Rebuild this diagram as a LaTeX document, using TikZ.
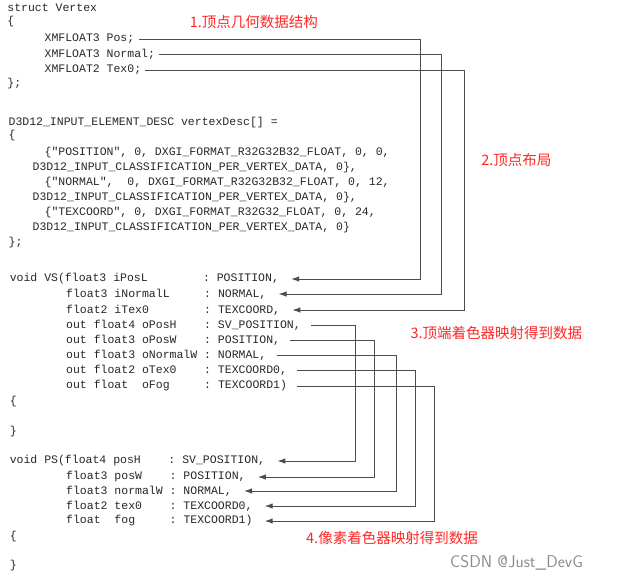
\documentclass[tikz,border=0pt]{standalone}
\usepackage{fontspec}
\setmonofont{Liberation Mono}
\newfontfamily\cjk{Noto Sans CJK SC}
\usetikzlibrary{arrows.meta}
\begin{document}
\begin{tikzpicture}[x=1.2pt,y=-1pt,
  code/.style={anchor=west,inner sep=0pt,font=\ttfamily\fontsize{11.5}{12}\selectfont,text=black!85},
  lab/.style={anchor=west,inner sep=0pt,font=\cjk\fontsize{14.5}{16}\selectfont,text=red!85!white},
  link/.style={draw=black!70,line width=1pt},
  arr/.style={link,-{Latex[length=8pt,width=5.5pt]}}]
\useasboundingbox (0,0) rectangle (522.5,582);
\node[code] (s1) at (6,8) {struct Vertex};
\node[code] (s2) at (6,22) {\{};
\node[code] (pos) at (37,39) {XMFLOAT3 Pos;};
\node[code] (nor) at (37,54) {XMFLOAT3 Normal;};
\node[code] (tex) at (37,70) {XMFLOAT2 Tex0;};
\node[code] (s6) at (6,84) {\};};
\node[code] (d1) at (7,123) {D3D12\_INPUT\_ELEMENT\_DESC vertexDesc[] =};
\node[code] (d2) at (7,136) {\{};
\node[code] (d3) at (37,153) {\{"POSITION", 0, DXGI\_FORMAT\_R32G32B32\_FLOAT, 0, 0,};
\node[code] (d4) at (27,168) {D3D12\_INPUT\_CLASSIFICATION\_PER\_VERTEX\_DATA, 0\},};
\node[code] (d5) at (37,183) {\{"NORMAL",~~0, DXGI\_FORMAT\_R32G32B32\_FLOAT, 0, 12,};
\node[code] (d6) at (27,198) {D3D12\_INPUT\_CLASSIFICATION\_PER\_VERTEX\_DATA, 0\},};
\node[code] (d7) at (37,213) {\{"TEXCOORD", 0, DXGI\_FORMAT\_R32G32\_FLOAT, 0, 24,};
\node[code] (d8) at (27,228) {D3D12\_INPUT\_CLASSIFICATION\_PER\_VERTEX\_DATA, 0\}};
\node[code] (d9) at (7,243) {\};};
\node[code] (v1) at (8,279) {void VS(float3 iPosL~~~~~~~~: POSITION,};
\node[code] (v2) at (55,294) {float3 iNormalL~~~~~: NORMAL,};
\node[code] (v3) at (55,310) {float2 iTex0~~~~~~~~: TEXCOORD,};
\node[code] (v4) at (55,325) {out float4 oPosH~~~~: SV\_POSITION,};
\node[code] (v5) at (55,340) {out float3 oPosW~~~~: POSITION,};
\node[code] (v6) at (55,355) {out float3 oNormalW : NORMAL,};
\node[code] (v7) at (55,370) {out float2 oTex0~~~~: TEXCOORD0,};
\node[code] (v8) at (55,386) {out float~~oFog~~~~~: TEXCOORD1)};
\node[code] (v9) at (8,402) {\{};
\node[code] (v10) at (8,432) {\}};
\node[code] (p1) at (8,461) {void PS(float4 posH~~~~: SV\_POSITION,};
\node[code] (p2) at (55,477) {float3 posW~~~~: POSITION,};
\node[code] (p3) at (55,491) {float3 normalW : NORMAL,};
\node[code] (p4) at (55,506) {float2 tex0~~~~: TEXCOORD0,};
\node[code] (p5) at (55,521) {float~~fog~~~~~: TEXCOORD1)};
\node[code] (p6) at (8,537) {\{};
\node[code] (p7) at (8,566) {\}};
\node[lab] (l1) at (158,22) {1.顶点几何数据结构};
\node[lab] (l2) at (401,160) {2.顶点布局};
\node[lab] (l3) at (342,333) {3.顶端着色器映射得到数据};
\node[lab] (l4) at (255,538) {4.像素着色器映射得到数据};
\node[anchor=west,inner sep=0pt,font=\sffamily\fontsize{17}{19}\selectfont,text=black!45] (wm) at (375,563) {CSDN @Just\_DevG};
\coordinate (a1) at (350,39); \coordinate (a2) at (368,54); \coordinate (a3) at (387,70);
\draw[arr] ([xshift=4pt]pos.east) -| (a1) |- ([xshift=12pt]v1.east);
\draw[arr] ([xshift=4pt]nor.east) -| (a2) |- ([xshift=12pt]v2.east);
\draw[arr] ([xshift=4pt]tex.east) -| (a3) |- ([xshift=12pt]v3.east);
\coordinate (b1) at (296,325); \coordinate (b2) at (312,340); \coordinate (b3) at (330,355);
\coordinate (b4) at (346,370); \coordinate (b5) at (362,386);
\draw[arr] ([xshift=10pt]v4.east) -| (b1) |- ([xshift=12pt]p1.east);
\draw[arr] ([xshift=10pt]v5.east) -| (b2) |- ([xshift=12pt]p2.east);
\draw[arr] ([xshift=10pt]v6.east) -| (b3) |- ([xshift=12pt]p3.east);
\draw[arr] ([xshift=10pt]v7.east) -| (b4) |- ([xshift=12pt]p4.east);
\draw[arr] ([xshift=10pt]v8.east) -| (b5) |- ([xshift=12pt]p5.east);
\end{tikzpicture}
\end{document}
